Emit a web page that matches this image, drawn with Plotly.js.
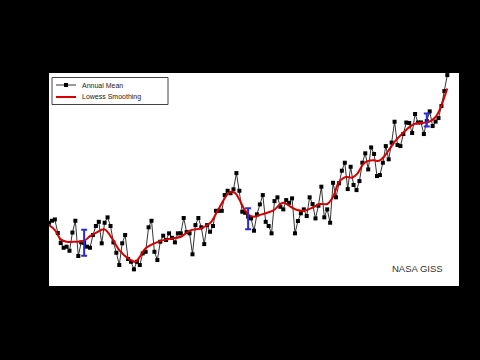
<!DOCTYPE html>
<html>
<head>
<meta charset="utf-8">
<script src="https://cdn.plot.ly/plotly-3.0.1.min.js"></script>
<style>html,body{margin:0;padding:0;background:#000;}#chart{width:480px;height:360px;}</style>
</head>
<body>
<div id="chart"></div>
<script>
// Annual mean temperature anomaly (°C)
const years = [];
for (let y = 1880; y <= 2016; y++) years.push(y);
const annualMean = [
  -0.125, -0.11, -0.10, -0.204, -0.28, -0.316, -0.308, -0.339, -0.20, -0.11,
  -0.379, -0.275, -0.28, -0.308, -0.316, -0.219, -0.15, -0.118, -0.282, -0.125,
  -0.084, -0.15, -0.275, -0.354, -0.448, -0.282, -0.219, -0.402, -0.423, -0.481,
  -0.423, -0.448, -0.359, -0.347, -0.16, -0.11, -0.347, -0.41, -0.27, -0.224,
  -0.257, -0.206, -0.24, -0.275, -0.206, -0.206, -0.089, -0.196, -0.206, -0.366,
  -0.143, -0.089, -0.16, -0.288, -0.143, -0.194, -0.15, -0.034, -0.034, -0.034,
  0.086, 0.119, 0.10, 0.13, 0.254, 0.119, -0.041, -0.049, -0.079, -0.092,
  -0.186, -0.061, 0.015, 0.086, -0.118, -0.15, -0.206, 0.04, 0.069, -0.003,
  -0.023, 0.048, 0.027, 0.061, -0.206, -0.112, -0.053, -0.023, -0.074, 0.069,
  0.018, -0.092, 0.005, 0.15, -0.084, -0.023, -0.125, 0.18, 0.069, 0.176,
  0.272, 0.333, 0.132, 0.302, 0.163, 0.124, 0.193, 0.333, 0.405, 0.282,
  0.45, 0.40, 0.231, 0.239, 0.333, 0.46, 0.359, 0.487, 0.646, 0.468,
  0.46, 0.552, 0.64, 0.636, 0.56, 0.705, 0.64, 0.641, 0.552, 0.651,
  0.725, 0.613, 0.647, 0.674, 0.766, 0.88, 1.002
];

// Lowess smoothing curve
const lowessYears = [1880, 1882, 1884, 1886, 1889, 1892, 1894, 1896, 1899, 1901,
  1904, 1907, 1909.5, 1911, 1913, 1916, 1920, 1925, 1928, 1932, 1934, 1935.4,
  1937.4, 1939, 1940.3, 1941.4, 1942.5, 1943.7, 1945.1, 1946.5, 1948.2, 1950,
  1952, 1954.5, 1956.8, 1959, 1960.2, 1962.5, 1964.8, 1967, 1969.4, 1972.6,
  1975, 1977, 1978.5, 1979.6, 1981.3, 1983.6, 1985.3, 1987.3, 1989, 1991,
  1992.7, 1994.4, 1996.5, 1998.5, 2000.5, 2003.5, 2005.5, 2008, 2010.3, 2012,
  2013.5, 2015, 2016];
const lowessValues = [-0.143, -0.181, -0.252, -0.27, -0.27, -0.263, -0.227, -0.202, -0.176, -0.227,
  -0.334, -0.397, -0.423, -0.385, -0.32, -0.282, -0.252, -0.232, -0.186, -0.168, -0.143, -0.118,
  -0.041, 0.023, 0.073, 0.104, 0.111, 0.099, 0.048, -0.015, -0.066, -0.079,
  -0.066, -0.049, -0.028, 0.018, 0.027, -0.003, -0.028, -0.034, -0.015, 0.018,
  0.018, 0.073, 0.163, 0.20, 0.224, 0.22, 0.25, 0.323, 0.347, 0.351,
  0.348, 0.379, 0.445, 0.506, 0.552, 0.613, 0.634, 0.638, 0.651, 0.682,
  0.742, 0.834, 0.90];

// Uncertainty bars
const errYears = [1892, 1948, 2009];
const errCenters = [-0.278, -0.095, 0.659];
const errSizes = [0.10, 0.08, 0.05];

// Legend labels
const legendLabels = ['Annual Mean', 'Lowess Smoothing'];

const BLACK = '#000', RED = '#d40000', BLUE = '#2a2ad0';

const traces = [
  {
    x: years, y: annualMean, type: 'scatter', mode: 'lines+markers',
    name: legendLabels[0],
    line: {color: BLACK, width: 0.8},
    marker: {symbol: 'square', size: 4, color: BLACK}
  },
  {
    x: lowessYears, y: lowessValues, type: 'scatter', mode: 'lines',
    name: legendLabels[1],
    line: {color: RED, width: 2, shape: 'spline', smoothing: 1}
  },
  {
    x: errYears, y: errCenters, type: 'scatter', mode: 'markers',
    showlegend: false, hoverinfo: 'skip',
    marker: {size: 1, color: BLUE, opacity: 0},
    error_y: {type: 'data', array: errSizes, visible: true, color: BLUE, thickness: 2, width: 3}
  }
];

// compact legend box drawn in paper coordinates
const P = (px) => (px - 49) / 410;       // pixel x -> paper x
const Q = (py) => (286 - py) / 213;      // pixel y -> paper y
const shapes = [
  {type: 'rect', xref: 'paper', yref: 'paper', x0: P(52), x1: P(168), y0: Q(104.5), y1: Q(77.5),
   fillcolor: '#fff', line: {color: '#444', width: 1}, layer: 'above'},
  {type: 'line', xref: 'paper', yref: 'paper', x0: P(56), x1: P(76), y0: Q(85), y1: Q(85),
   line: {color: BLACK, width: 0.8}, layer: 'above'},
  {type: 'rect', xref: 'paper', yref: 'paper', x0: P(64), x1: P(68), y0: Q(87), y1: Q(83),
   fillcolor: BLACK, line: {width: 0}, layer: 'above'},
  {type: 'line', xref: 'paper', yref: 'paper', x0: P(56), x1: P(76), y0: Q(97), y1: Q(97),
   line: {color: RED, width: 2}, layer: 'above'}
];

const layout = {
  width: 480, height: 360,
  paper_bgcolor: '#000', plot_bgcolor: '#fff',
  margin: {l: 49, r: 21, t: 73, b: 74, pad: 0},
  font: {family: 'Liberation Sans, Arial, sans-serif', color: '#000'},
  xaxis: {range: [1880, 2020], showgrid: false, zeroline: false, showline: false,
          showticklabels: false, ticks: ''},
  yaxis: {range: [-0.608, 1.018], showgrid: false, zeroline: false, showline: false,
          showticklabels: false, ticks: ''},
  showlegend: false,
  shapes: shapes,
  annotations: [
    {text: legendLabels[0], xref: 'paper', yref: 'paper', x: P(80), y: Q(85),
     xanchor: 'left', yanchor: 'middle', showarrow: false,
     font: {size: 7, color: '#222', family: 'Liberation Sans, Arial, sans-serif'}},
    {text: legendLabels[1], xref: 'paper', yref: 'paper', x: P(80), y: Q(97),
     xanchor: 'left', yanchor: 'middle', showarrow: false,
     font: {size: 7, color: '#222', family: 'Liberation Sans, Arial, sans-serif'}},
    {text: 'NASA GISS', xref: 'paper', yref: 'paper', x: 0.898, y: 0.083,
     xanchor: 'center', yanchor: 'middle', showarrow: false,
     font: {size: 9.5, color: '#333', family: 'Liberation Sans, Arial, sans-serif'}}
  ]
};

Plotly.newPlot('chart', traces, layout, {displayModeBar: false, staticPlot: true});
</script>
</body>
</html>
